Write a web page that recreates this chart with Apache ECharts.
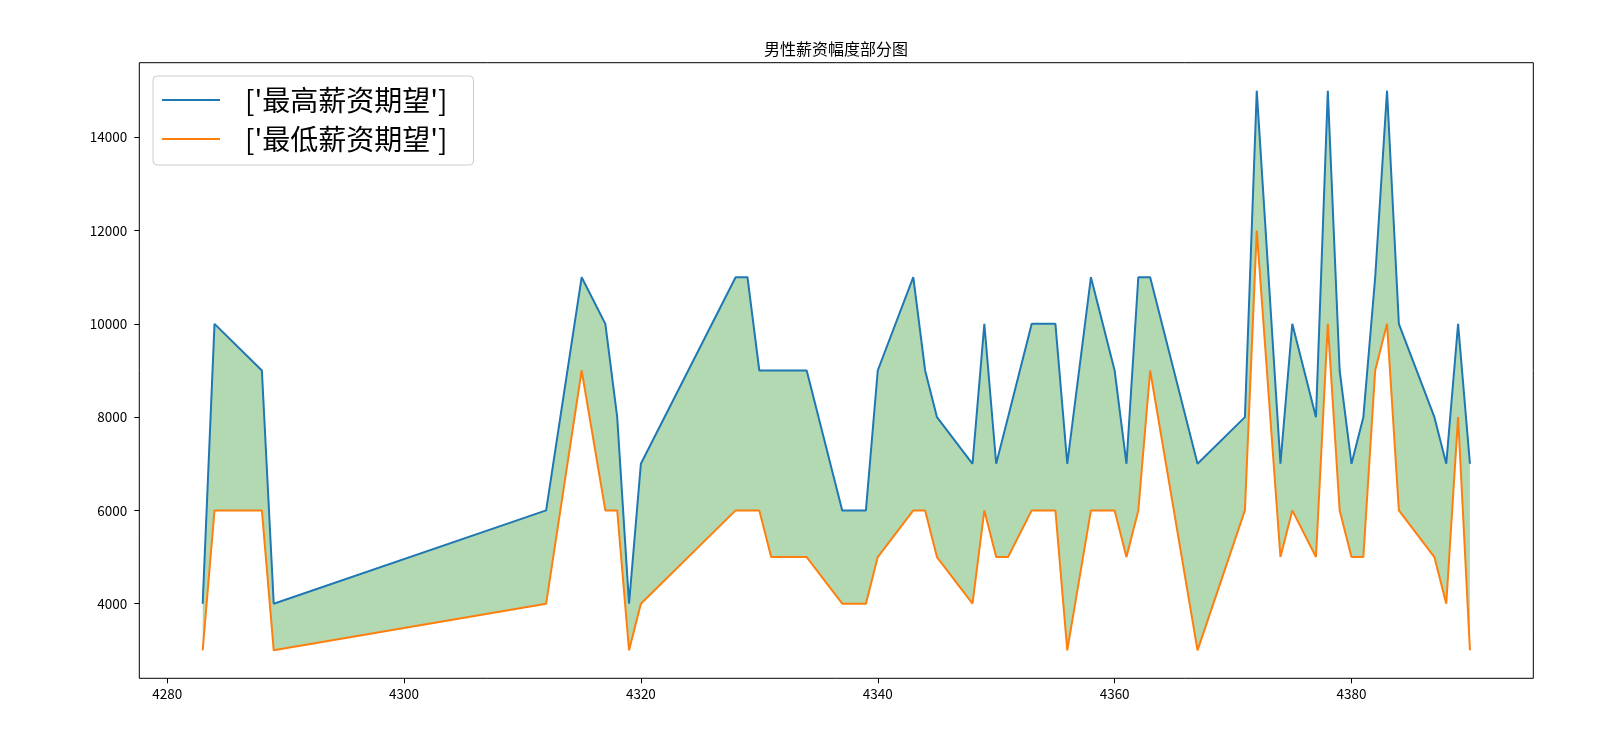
<!DOCTYPE html>
<html>
<head>
<meta charset="utf-8">
<script src="https://cdn.jsdelivr.net/npm/echarts@6/dist/echarts.min.js"></script>
<style>
  html, body { margin: 0; padding: 0; background: #fff; }
  #chart { width: 1622px; height: 734px; }
</style>
</head>
<body>
<div id="chart"></div>
<script>
// ---- data ----
const titleText = '男性薪资幅度部分图';
const seriesNames = ["['最高薪资期望']", "['最低薪资期望']"];
const xValues = [4283, 4284, 4288, 4289, 4312, 4315, 4317, 4318, 4319, 4320,
                 4328, 4329, 4330, 4331, 4334, 4337, 4339, 4340, 4343, 4344,
                 4345, 4348, 4349, 4350, 4351, 4353, 4355, 4356, 4358, 4360,
                 4361, 4362, 4363, 4367, 4371, 4372, 4374, 4375, 4377, 4378,
                 4379, 4380, 4381, 4382, 4383, 4384, 4387, 4388, 4389, 4390];
const maxSalary = [4000, 10000, 9000, 4000, 6000, 11000, 10000, 8000, 4000, 7000,
                   11000, 11000, 9000, 9000, 9000, 6000, 6000, 9000, 11000, 9000,
                   8000, 7000, 10000, 7000, 8000, 10000, 10000, 7000, 11000, 9000,
                   7000, 11000, 11000, 7000, 8000, 15000, 7000, 10000, 8000, 15000,
                   9000, 7000, 8000, 11000, 15000, 10000, 8000, 7000, 10000, 7000];
const minSalary = [3000, 6000, 6000, 3000, 4000, 9000, 6000, 6000, 3000, 4000,
                   6000, 6000, 6000, 5000, 5000, 4000, 4000, 5000, 6000, 6000,
                   5000, 4000, 6000, 5000, 5000, 6000, 6000, 3000, 6000, 6000,
                   5000, 6000, 9000, 3000, 6000, 12000, 5000, 6000, 5000, 10000,
                   6000, 5000, 5000, 9000, 10000, 6000, 5000, 4000, 8000, 3000];
const xTicks = [4280, 4300, 4320, 4340, 4360, 4380];
const yTicks = [4000, 6000, 8000, 10000, 12000, 14000];

// ---- chart ----
const chart = echarts.init(document.getElementById('chart'), null, { renderer: 'canvas' });
const tickFont = '"Liberation Sans Narrow", "Noto Sans CJK SC", sans-serif';
const cjkFont = '"Noto Sans CJK SC", sans-serif';
const plain = function (v) { return String(v); };

const maxData = xValues.map((x, i) => [x, maxSalary[i]]);
const minData = xValues.map((x, i) => [x, minSalary[i]]);

const option = {
  animation: false,
  backgroundColor: '#ffffff',
  title: {
    text: titleText,
    left: 836,
    top: 41,
    padding: 0,
    textAlign: 'center',
    textStyle: { fontFamily: cjkFont, fontSize: 16, fontWeight: 'normal', color: '#000' }
  },
  legend: {
    data: seriesNames,
    orient: 'vertical',
    left: 153,
    top: 76,
    padding: [10, 26, 12, 9],
    itemGap: 11,
    icon: 'rect',
    itemWidth: 58,
    itemHeight: 2,
    backgroundColor: '#ffffff',
    borderColor: '#cccccc',
    borderWidth: 1,
    borderRadius: 4,
    textStyle: { fontFamily: cjkFont, fontSize: 28, lineHeight: 28, color: '#000', padding: [0, 0, 0, 20] }
  },
  grid: {
    left: 139.3,
    top: 62.7,
    width: 1394,
    height: 615.6,
    show: true,
    borderColor: '#000',
    borderWidth: 1,
    backgroundColor: 'transparent'
  },
  xAxis: {
    type: 'value',
    min: 4277.65,
    max: 4395.35,
    splitLine: { show: false },
    axisLine: { show: false },
    axisTick: { show: true, inside: false, length: 5, customValues: xTicks, lineStyle: { color: '#000', width: 1 } },
    axisLabel: { customValues: xTicks, formatter: plain, margin: 9, color: '#000', fontFamily: tickFont, fontSize: 13.5 }
  },
  yAxis: {
    type: 'value',
    min: 2400,
    max: 15600,
    splitLine: { show: false },
    axisLine: { show: false },
    axisTick: { show: true, inside: false, length: 5, customValues: yTicks, lineStyle: { color: '#000', width: 1 } },
    axisLabel: { customValues: yTicks, formatter: plain, margin: 12, color: '#000', fontFamily: tickFont, fontSize: 13.5 }
  },
  series: [
    {
      type: 'custom',
      name: 'fill',
      z: 1,
      silent: true,
      clip: true,
      data: [[xValues[0], maxSalary[0]]],
      renderItem: function (params, api) {
        if (params.dataIndex !== 0) return null;
        const pts = [];
        for (let i = 0; i < xValues.length; i++) pts.push(api.coord([xValues[i], maxSalary[i]]));
        for (let i = xValues.length - 1; i >= 0; i--) pts.push(api.coord([xValues[i], minSalary[i]]));
        return {
          type: 'polygon',
          shape: { points: pts },
          style: { fill: 'rgba(0,128,0,0.3)', stroke: null }
        };
      }
    },
    {
      type: 'line',
      name: seriesNames[0],
      z: 3,
      data: maxData,
      symbol: 'none',
      color: '#1f77b4',
      lineStyle: { color: '#1f77b4', width: 2 }
    },
    {
      type: 'line',
      name: seriesNames[1],
      z: 3,
      data: minData,
      symbol: 'none',
      color: '#ff7f0e',
      lineStyle: { color: '#ff7f0e', width: 2 }
    }
  ]
};
chart.setOption(option);
</script>
</body>
</html>
